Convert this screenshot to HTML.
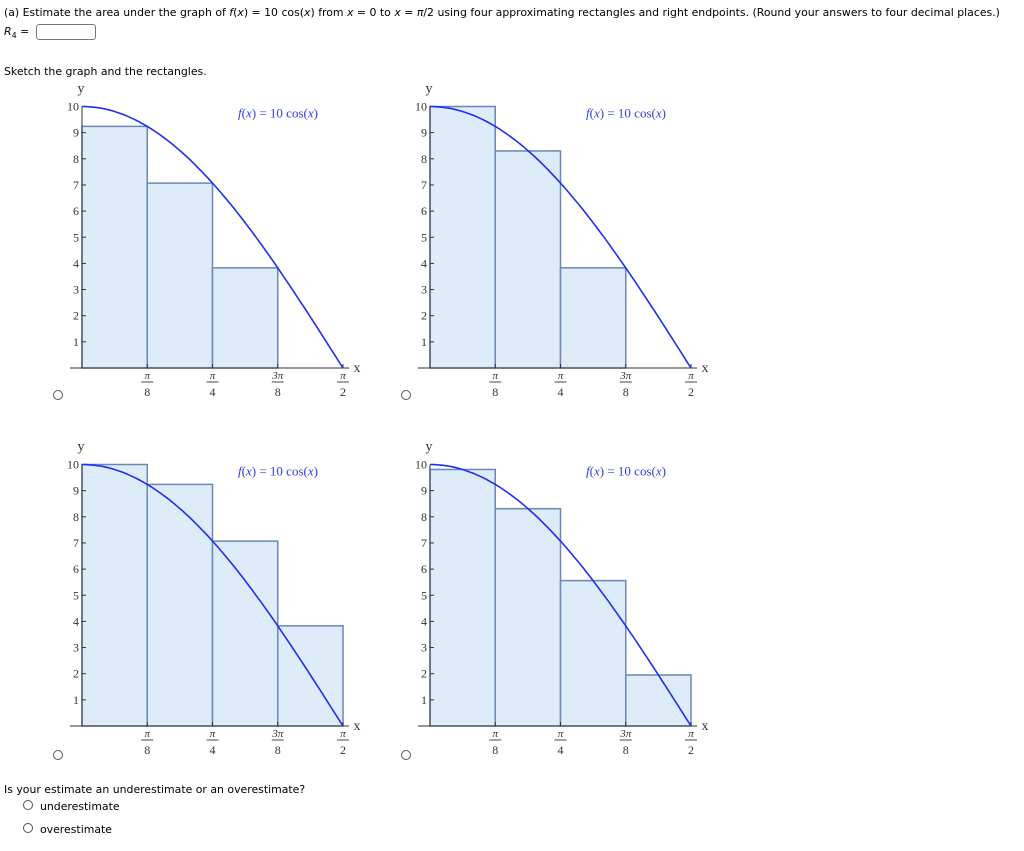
<!DOCTYPE html>
<html><head><meta charset="utf-8">
<style>
body{margin:0;width:1024px;height:851px;background:#fff;position:relative;font-family:Verdana,"DejaVu Sans",sans-serif;font-size:10.9px;color:#000;overflow:hidden}
.t{position:absolute;white-space:nowrap}
.radio{position:absolute;width:8px;height:8px;border:1.3px solid #555;border-radius:50%;background:#fff}
.inp{position:absolute;left:36px;top:24px;width:58px;height:14px;border:1px solid #777;border-radius:3px}
svg{position:absolute;left:0;top:0}
</style></head><body>
<div class="t" style="left:4px;top:6px">(a) Estimate the area under the graph of <i>f</i>(<i>x</i>) = 10 cos(<i>x</i>) from <i>x</i> = 0 to <i>x</i> = <i>π</i>/2 using four approximating rectangles and right endpoints. (Round your answers to four decimal places.)</div>
<div class="t" style="left:4px;top:25px"><i>R</i><sub style="font-size:8px">4</sub> =</div>
<div class="inp"></div>
<div class="t" style="left:4px;top:65px">Sketch the graph and the rectangles.</div>
<svg id="s" width="1024" height="851"></svg>
<div class="radio" style="left:53px;top:390px"></div>
<div class="radio" style="left:401px;top:390px"></div>
<div class="radio" style="left:53px;top:750px"></div>
<div class="radio" style="left:401px;top:750px"></div>
<div class="t" style="left:4px;top:783px">Is your estimate an underestimate or an overestimate?</div>
<div class="radio" style="left:23px;top:800px"></div>
<div class="t" style="left:40px;top:800px">underestimate</div>
<div class="radio" style="left:23px;top:823px"></div>
<div class="t" style="left:40px;top:823px">overestimate</div>
<script>
const yTicks=[1,2,3,4,5,6,7,8,9,10];
const xTickNum=["π","π","3π","π"];
const xTickDen=["8","4","8","2"];
const xTickVals=[1,2,3,4]; // in units of π/8
const bars1=[9.24,7.07,3.83];
const bars2=[10,8.3,3.83];
const bars3=[10,9.24,7.07,3.83];
const bars4=[9.81,8.31,5.56,1.95];
const charts=[{ox:82,oy:368,bars:bars1},{ox:430,oy:368,bars:bars2},{ox:82,oy:726,bars:bars3},{ox:430,oy:726,bars:bars4}];
const NS="http://www.w3.org/2000/svg";
const svg=document.getElementById('s');
function mk(tag,attrs,parent){const e=document.createElementNS(NS,tag);for(const k in attrs)e.setAttribute(k,attrs[k]);(parent||svg).appendChild(e);return e;}
const XW=261/4, YU=26.15;
charts.forEach((c,ci)=>{
  const g=mk('g',{});
  
  
  const X=u=>c.ox+u*XW, Y=v=>c.oy-v*YU;
  c.bars.forEach((h,i)=>{
    const r=mk('rect',{x:X(i),y:Y(h),width:XW,height:h*YU,fill:'#deebf9',stroke:'#6b86b8','stroke-width':1.5},g);
    
    
  });
  mk('line',{x1:c.ox,y1:c.oy,x2:c.ox,y2:Y(10),stroke:'#333','stroke-width':1},g);
  mk('line',{x1:c.ox-12,y1:c.oy,x2:X(4)+6,y2:c.oy,stroke:'#333','stroke-width':1},g);
  yTicks.forEach(v=>{
    mk('line',{x1:c.ox,y1:Y(v),x2:c.ox+4,y2:Y(v),stroke:'#333'},g);
    const t=mk('text',{x:c.ox-3,y:Y(v)+4,'text-anchor':'end','font-family':'Liberation Serif,serif','font-size':12,fill:'#333'},g);t.textContent=v;
  });
  xTickVals.forEach((u,i)=>{
    mk('line',{x1:X(u),y1:c.oy,x2:X(u),y2:c.oy-4,stroke:'#333'},g);
    const a=mk('text',{x:X(u),y:c.oy+11,'text-anchor':'middle','font-family':'Liberation Serif,serif','font-size':11,'font-style':'italic',fill:'#333'},g);a.textContent=xTickNum[i];
    mk('line',{x1:X(u)-6,y1:c.oy+14,x2:X(u)+6,y2:c.oy+14,stroke:'#333','stroke-width':0.9},g);
    const b=mk('text',{x:X(u),y:c.oy+28,'text-anchor':'middle','font-family':'Liberation Serif,serif','font-size':12,fill:'#333'},g);b.textContent=xTickDen[i];
  });
  const yl=mk('text',{x:c.ox-1,y:Y(10)-14,'text-anchor':'middle','font-family':'Liberation Serif,serif','font-size':14,fill:'#333'},g);yl.textContent='y';
  const xl=mk('text',{x:X(4)+14,y:c.oy+4,'text-anchor':'middle','font-family':'Liberation Serif,serif','font-size':14,fill:'#333'},g);xl.textContent='x';
  let d='';
  for(let k=0;k<=60;k++){const u=4*k/60;d+=(k?'L':'M')+X(u).toFixed(1)+','+Y(10*Math.cos(u*Math.PI/8)).toFixed(1);}
  const p=mk('path',{d:d,fill:'none',stroke:'#1f2ff0','stroke-width':1.6},g);
  
  
  const fl=mk('text',{x:c.ox+196,y:Y(10)+11,'text-anchor':'middle','font-family':'Liberation Serif,serif','font-size':13,fill:'#2f3fe0'},g);
  fl.innerHTML='<tspan font-style="italic">f</tspan>(<tspan font-style="italic">x</tspan>) = 10 cos(<tspan font-style="italic">x</tspan>)';
  
  
});
</script>
</body></html>
